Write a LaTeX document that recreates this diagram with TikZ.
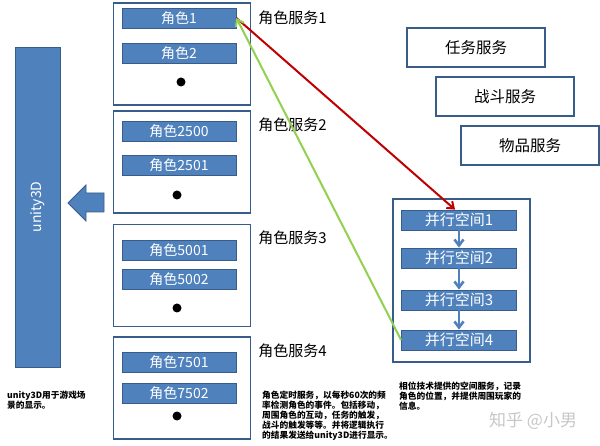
\documentclass[tikz,border=0pt]{standalone}
\usepackage{fontspec}
\setmainfont{Noto Sans CJK SC}
\usepackage{xcolor}
\usetikzlibrary{arrows.meta,positioning}

\definecolor{roleblue}{RGB}{79,129,189}
\definecolor{lineblue}{RGB}{56,93,138}
\definecolor{arrred}{RGB}{192,0,0}
\definecolor{arrgreen}{RGB}{146,208,80}

\begin{document}
\begin{tikzpicture}[>=Latex,x=1pt,y=-1pt,
rolebar/.style={draw=lineblue,fill=roleblue,text=white,line width=0.8pt,
  minimum width=114pt,minimum height=20pt,inner sep=0pt,font=\fontsize{14}{14}\selectfont},
group/.style={draw=lineblue,line width=1.1pt,minimum width=137pt,minimum height=102pt,inner sep=0pt},
service/.style={draw=lineblue,line width=1.1pt,fill=white,minimum width=138pt,minimum height=39pt,
  inner sep=0pt,font=\fontsize{15.5}{15.5}\selectfont},
dotmark/.style={circle,fill=black,inner sep=0pt,minimum size=9pt},
grouplabel/.style={anchor=west,inner sep=0pt,font=\fontsize{15}{15}\selectfont},
note/.style={anchor=north west,align=left,inner sep=0pt,font=\fontsize{8.7}{10}\selectfont\bfseries},
flow/.style={-{Straight Barb[length=6pt,width=9pt]},line width=2pt}
]
\useasboundingbox (0,0) rectangle (600,446);

\node[draw=lineblue,fill=roleblue,text=white,line width=0.8pt,rotate=90,
  minimum width=320pt,minimum height=45pt,inner sep=0pt,
  font=\fontsize{14}{14}\selectfont] (unity) at (37.5,207) {unity3D};
\filldraw[fill=roleblue,draw=lineblue,line width=0.8pt]
  (104,193) -- (86,193) -- (86,185) -- (68,203) -- (86,221) -- (86,212) -- (104,212) -- cycle;

\node[group] (g1) at (182,54) {};
\node[group] (g2) at (182,162) {};
\node[group] (g3) at (182,275.5) {};
\node[group] (g4) at (182,388) {};

\node[rolebar] (r1) at (179,18) {角色1};
\node[rolebar] (r2) at (179,53) {角色2};
\node[dotmark] (d1) at (181,82) {};
\node[rolebar] (r2500) at (179,131) {角色2500};
\node[rolebar] (r2501) at (179,165) {角色2501};
\node[dotmark] (d2) at (177,195) {};
\node[rolebar] (r5001) at (179,250) {角色5001};
\node[rolebar] (r5002) at (179,279) {角色5002};
\node[dotmark] (d3) at (177,308) {};
\node[rolebar] (r7501) at (179,362) {角色7501};
\node[rolebar] (r7502) at (179,393) {角色7502};
\node[dotmark] (d4) at (177,416) {};

\node[grouplabel] (l1) at ([xshift=7pt,yshift=-15pt]g1.north east) {角色服务1};
\node[grouplabel] (l2) at ([xshift=7pt,yshift=-14pt]g2.north east) {角色服务2};
\node[grouplabel] (l3) at ([xshift=7pt,yshift=-14pt]g3.north east) {角色服务3};
\node[grouplabel] (l4) at ([xshift=7pt,yshift=-14pt]g4.north east) {角色服务4};

\node[service] (task) at (476,47.5) {任务服务};
\node[service] (fight) at (505,96.5) {战斗服务};
\node[service] (item) at (530,145.5) {物品服务};

\node[draw=lineblue,line width=1.1pt,minimum width=137pt,minimum height=163pt,
  inner sep=0pt] (spacebox) at (461.5,280.5) {};
\node[rolebar,minimum width=115pt,font=\fontsize{15}{15}\selectfont] (p1) at (459,220) {并行空间1};
\node[rolebar,minimum width=115pt,font=\fontsize{15}{15}\selectfont] (p2) at (459,258) {并行空间2};
\node[rolebar,minimum width=115pt,font=\fontsize{15}{15}\selectfont] (p3) at (459,300) {并行空间3};
\node[rolebar,minimum width=115pt,font=\fontsize{15}{15}\selectfont] (p4) at (459,340) {并行空间4};

\draw[flow,roleblue,line width=2.6pt] (p1) -- (p2);
\draw[flow,roleblue,line width=2.6pt] (p2) -- (p3);
\draw[flow,roleblue,line width=2.6pt] (p3) -- (p4);

\draw[flow,arrred] (r1.east) -- ([xshift=-4pt]p1.north);
\draw[flow,arrgreen] (p4.west) -- (r1.east);

\node[note] (unote) at (7,391) {unity3D用于游戏场\\景的显示。};
\node[note] (rnote) at (262,391) {角色定时服务，以每秒60次的频\\率检测角色的事件。包括移动，\\周围角色的互动，任务的触发，\\战斗的触发等等。并将逻辑执行\\的结果发送给unity3D进行显示。};
\node[note] (snote) at (399,382) {相位技术提供的空间服务，记录\\角色的位置，并提供周围玩家的\\信息。};
\node[anchor=west,inner sep=0pt,text=black!22,font=\fontsize{17}{17}\selectfont] (mark) at (489,421) {知乎 @小男};
\end{tikzpicture}
\end{document}
